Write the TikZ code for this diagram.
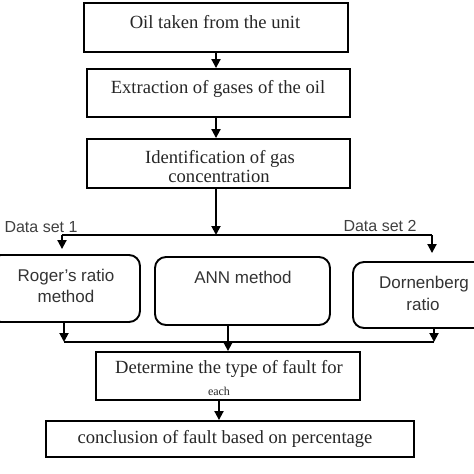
\documentclass[tikz,border=0pt]{standalone}
\usepackage{fontspec}
\setmainfont{Liberation Serif}
\setsansfont{Liberation Sans}
\usetikzlibrary{arrows.meta}
\begin{document}
\begin{tikzpicture}[x=1pt,y=-1pt,
  box/.style={draw=black,line width=1.9pt,minimum width=#1,inner sep=0pt},
  rbox/.style={draw=black,line width=1.9pt,rounded corners=11pt,inner sep=0pt},
  stxt/.style={text=black!85,font=\fontsize{18.6}{20}\selectfont,anchor=base,align=center,inner sep=0pt},
  ftxt/.style={text=black!80,font=\sffamily\fontsize{17}{21}\selectfont,anchor=base,align=center,inner sep=0pt},
  dtxt/.style={text=black!75,font=\sffamily\fontsize{16}{18}\selectfont,anchor=base,inner sep=0pt},
  arr/.style={line width=1.9pt,-{Triangle[width=9pt,length=9pt]}},
  ln/.style={line width=1.9pt}]
\useasboundingbox (0,0) rectangle (474,474);
% boxes
\node[box=264pt,minimum height=49pt] (b1) at (216,27.5) {};
\node[box=263pt,minimum height=48pt] (b2) at (218.5,93) {};
\node[box=263pt,minimum height=49pt] (b3) at (218.5,163.5) {};
\node[rbox,minimum width=150pt,minimum height=67pt] (bA) at (65,288.5) {};
\node[rbox,minimum width=175pt,minimum height=68pt] (bB) at (242.5,291) {};
\node[rbox,minimum width=140pt,minimum height=66pt] (bC) at (423,295) {};
\node[box=264pt,minimum height=48pt] (b4) at (228,376) {};
\node[box=368pt,minimum height=36pt] (b5) at (230,439) {};
% texts
\node[stxt] (t1) at (215,28) {Oil taken from the unit};
\node[stxt] (t2) at (218,93) {Extraction of gases of the oil};
\node[stxt] (t3a) at (220,163) {Identification of gas};
\node[stxt] (t3b) at (219,182) {concentration};
\node[ftxt] (tA1) at (66,281) {Roger's ratio};
\node[ftxt] (tA2) at (66,302) {method};
\node[ftxt] (tB) at (243,283) {ANN method};
\node[ftxt] (tC1) at (424,288) {Dornenberg};
\node[ftxt] (tC2) at (423,310) {ratio};
\node[stxt] (t4a) at (229,373) {Determine the type of fault for};
\node[stxt,font=\fontsize{12}{13}\selectfont] (t4b) at (219,395) {each};
\node[stxt] (t5) at (225,443) {conclusion of fault based on percentage};
\node[dtxt] (d1) at (41,232) {Data set 1};
\node[dtxt] (d2) at (380,231) {Data set 2};
% coordinates
\coordinate (split) at (216,235);
\coordinate (dl) at (62,235);
\coordinate (dr) at (432,235);
\coordinate (ml) at (64,342);
\coordinate (mr) at (434,342);
\coordinate (mid) at (228,342);
\coordinate (low) at (219,400);
% connectors
\draw[arr] (b1.south) -- (b1.south |- b2.north);
\draw[arr] (b2.south -| b1.south) -- (b1.south |- b3.north);
\draw[arr] (b3.south -| split) -- (split);
\draw[ln] (dl) -- (dr);
\draw[arr,shorten >=5pt] (dl) -- (dl |- bA.north);
\draw[arr,shorten >=8pt] (dr) -- (dr |- bC.north);
\draw[arr] (bA.south -| ml) -- (ml);
\draw[arr] (bC.south -| mr) -- (mr);
\draw[ln] (ml) -- (mr);
\draw[arr] (bB.south -| mid) -- (b4.north -| mid);
\draw[arr] (b4.south -| low) -- (b5.north -| low);
\end{tikzpicture}
\end{document}
